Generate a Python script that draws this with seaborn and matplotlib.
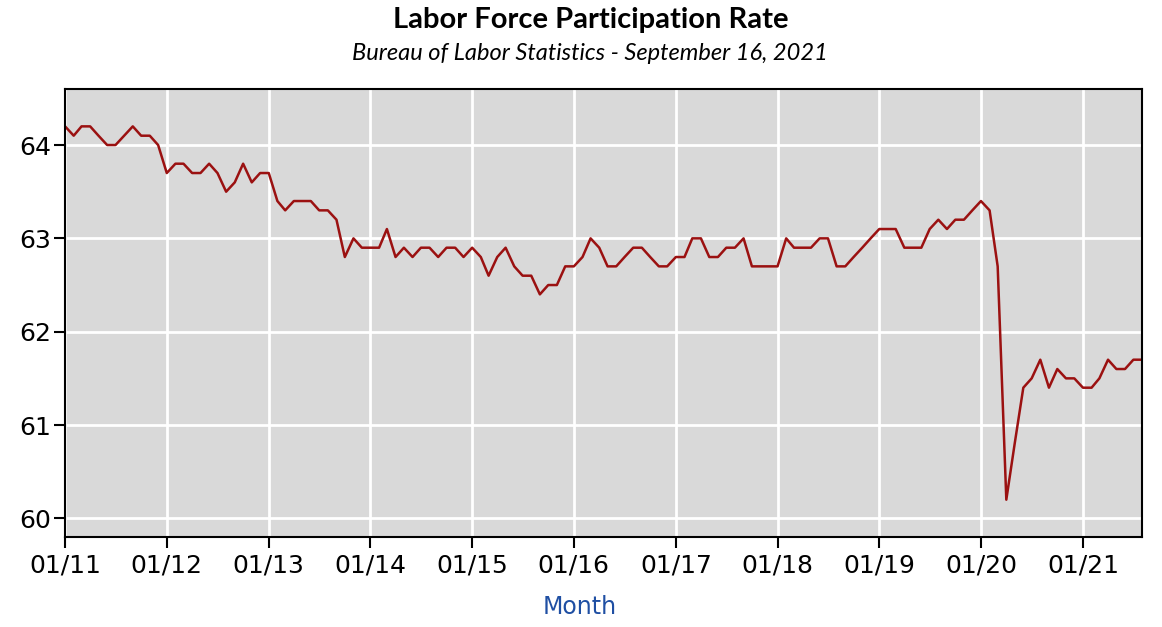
import pandas as pd
import matplotlib.pyplot as plt
import matplotlib.dates as mdates
import seaborn as sns

# monthly labor force participation rate, Jan 2011 - Aug 2021
rate_2011 = [64.2, 64.1, 64.2, 64.2, 64.1, 64.0, 64.0, 64.1, 64.2, 64.1, 64.1, 64.0]
rate_2012 = [63.7, 63.8, 63.8, 63.7, 63.7, 63.8, 63.7, 63.5, 63.6, 63.8, 63.6, 63.7]
rate_2013 = [63.7, 63.4, 63.3, 63.4, 63.4, 63.4, 63.3, 63.3, 63.2, 62.8, 63.0, 62.9]
rate_2014 = [62.9, 62.9, 63.1, 62.8, 62.9, 62.8, 62.9, 62.9, 62.8, 62.9, 62.9, 62.8]
rate_2015 = [62.9, 62.8, 62.6, 62.8, 62.9, 62.7, 62.6, 62.6, 62.4, 62.5, 62.5, 62.7]
rate_2016 = [62.7, 62.8, 63.0, 62.9, 62.7, 62.7, 62.8, 62.9, 62.9, 62.8, 62.7, 62.7]
rate_2017 = [62.8, 62.8, 63.0, 63.0, 62.8, 62.8, 62.9, 62.9, 63.0, 62.7, 62.7, 62.7]
rate_2018 = [62.7, 63.0, 62.9, 62.9, 62.9, 63.0, 63.0, 62.7, 62.7, 62.8, 62.9, 63.0]
rate_2019 = [63.1, 63.1, 63.1, 62.9, 62.9, 62.9, 63.1, 63.2, 63.1, 63.2, 63.2, 63.3]
rate_2020 = [63.4, 63.3, 62.7, 60.2, 60.8, 61.4, 61.5, 61.7, 61.4, 61.6, 61.5, 61.5]
rate_2021 = [61.4, 61.4, 61.5, 61.7, 61.6, 61.6, 61.7, 61.7]

rates = (rate_2011 + rate_2012 + rate_2013 + rate_2014 + rate_2015 + rate_2016
         + rate_2017 + rate_2018 + rate_2019 + rate_2020 + rate_2021)
months = pd.date_range('2011-01-01', periods=len(rates), freq='MS')
y_ticks = [60, 61, 62, 63, 64]

df = pd.DataFrame({'Month': months, 'Rate': rates})

sns.set_style('whitegrid', {'axes.facecolor': '#d9d9d9', 'grid.color': 'white',
                            'axes.edgecolor': 'black', 'text.color': 'black'})

fig = plt.figure(figsize=(11.62, 6.27), dpi=100)
ax = fig.add_axes([0.056, 0.1435, 0.9268, 0.7145])

sns.lineplot(data=df, x='Month', y='Rate', color='#9b1111', linewidth=1.8, ax=ax)

ax.set_xlim(months[0], months[-1])
ax.set_ylim(59.8, 64.6)
ax.set_yticks(y_ticks)
ax.xaxis.set_major_locator(mdates.YearLocator())
ax.xaxis.set_major_formatter(mdates.DateFormatter('%m/%y'))
ax.grid(True, color='white', linewidth=2)

for s in ax.spines.values():
    s.set_linewidth(1.5)
    s.set_color('black')

ax.tick_params(axis='both', which='major', direction='out', length=8, width=1.5,
               color='black', labelsize=18, labelcolor='black', left=True, bottom=True)
ax.tick_params(axis='x', pad=4)
ax.tick_params(axis='y', pad=2)

ax.set_ylabel('')
ax.set_xlabel('Month', fontsize=17, color='#1f4fa3')
ax.xaxis.set_label_coords(0.478, -0.13)

fig.text(0.508, 0.968, 'Labor Force Participation Rate', ha='center', va='center',
         fontsize=21, fontweight='bold', family='Lato', color='black')
fig.text(0.508, 0.914, 'Bureau of Labor Statistics - September 16, 2021', ha='center',
         va='center', fontsize=17, style='italic', family='Lato', color='black')

fig.savefig('out.png', dpi=100)
